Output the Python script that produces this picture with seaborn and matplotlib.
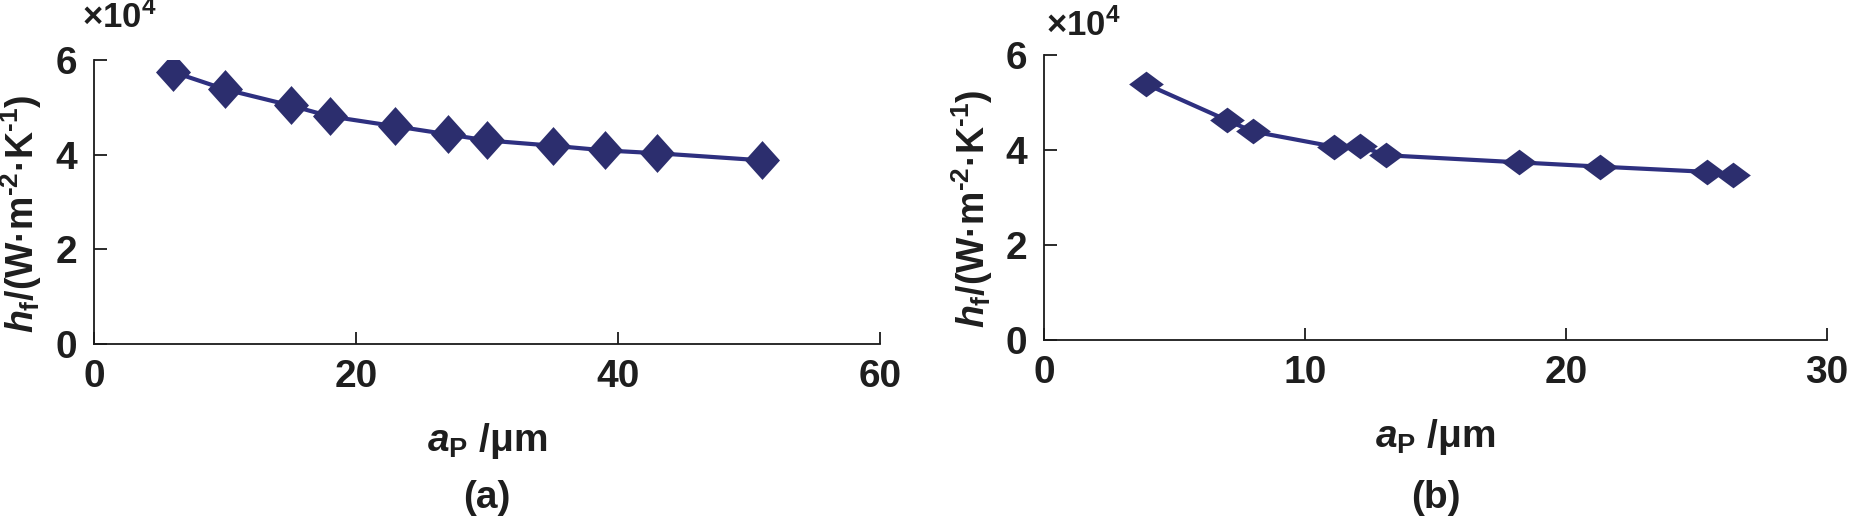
import numpy as np
import pandas as pd
import matplotlib
matplotlib.use('Agg')
import matplotlib.pyplot as plt
import seaborn as sns

# data (h_f in units of 1e4 W m^-2 K^-1)
ap_a = [6, 10, 15, 18, 23, 27, 30, 35, 39, 43, 51]
hf_a = [5.75, 5.38, 5.04, 4.81, 4.60, 4.43, 4.30, 4.19, 4.09, 4.03, 3.88]

ap_b = [3.9, 7.0, 8.0, 11.1, 12.1, 13.1, 18.2, 21.3, 25.4, 26.4]
hf_b = [5.39, 4.63, 4.39, 4.07, 4.08, 3.89, 3.74, 3.65, 3.54, 3.47]

panels = [
    {'x': ap_a, 'y': hf_a, 'xlim': 60, 'xticks': [0, 20, 40, 60], 'tag': '(a)'},
    {'x': ap_b, 'y': hf_b, 'xlim': 30, 'xticks': [0, 10, 20, 30], 'tag': '(b)'},
]

sns.set_style('ticks')
plt.rcParams['font.family'] = ['Liberation Sans', 'DejaVu Sans']
plt.rcParams['font.weight'] = 'bold'
plt.rcParams['mathtext.fontset'] = 'custom'
plt.rcParams['mathtext.rm'] = 'Liberation Sans:bold'
plt.rcParams['mathtext.it'] = 'Liberation Sans:italic:bold'
plt.rcParams['mathtext.bf'] = 'Liberation Sans:bold'

mark_col = '#2c2e6e'
line_col = '#2e3080'
text_col = '#1e1e1e'

# custom diamonds (panel a taller, panel b flatter)
diam_a = [(-0.9, 0), (0, 1), (0.9, 0), (0, -1), (-0.9, 0)]
diam_b = [(-1, 0), (0, 0.74), (1, 0), (0, -0.74), (-1, 0)]

fig = plt.figure(figsize=(18.5, 5.17), dpi=100)
W, H = 1850, 517
ax_a = fig.add_axes([94 / W, 1 - 344 / H, 786 / W, 284 / H])
ax_b = fig.add_axes([1044 / W, 1 - 340 / H, 783 / W, 285 / H])

for ax, p, diam, msize, mult_xy in [
    (ax_a, panels[0], diam_a, 28, (82 / W, 1 - 18 / H)),
    (ax_b, panels[1], diam_b, 25, (1046 / W, 1 - 26 / H)),
]:
    df = pd.DataFrame({'ap': p['x'], 'hf': p['y']})
    sns.lineplot(data=df, x='ap', y='hf', ax=ax, color=line_col, linewidth=3.0,
                 marker=diam, markersize=msize, markerfacecolor=mark_col,
                 markeredgecolor=mark_col, markeredgewidth=0, errorbar=None)
    ax.set_xlim(0, p['xlim'])
    ax.set_ylim(0, 6)
    ax.set_xticks(p['xticks'])
    ax.set_yticks([0, 2, 4, 6])
    sns.despine(ax=ax)
    for s in ['left', 'bottom']:
        ax.spines[s].set_linewidth(1.3)
        ax.spines[s].set_color('#1a1a1a')
    ax.tick_params(axis='both', direction='in', length=9, width=1.3,
                   labelsize=28, color='#1a1a1a', labelcolor=text_col)
    ax.tick_params(axis='y', pad=12)
    ax.tick_params(axis='x', pad=11)
    for lab in ax.get_xticklabels() + ax.get_yticklabels():
        lab.set_fontweight('bold')

    ax.set_xlabel(r'$a_{\rm P}$ /μm', fontsize=28, fontweight='bold', color=text_col)
    ax.xaxis.set_label_coords(0.5, -0.27)
    ax.set_ylabel(r'$h_{\rm f}$/(W·m$^{\text{-2}}$·K$^{\text{-1}}$)', fontsize=27,
                  fontweight='bold', color=text_col)
    ax.yaxis.set_label_coords(-0.063, 0.46)

    fig.text(mult_xy[0], mult_xy[1], r'×10$^{\rm 4}$', fontsize=25, fontweight='bold',
             color=text_col, ha='left', va='center')
    pos = ax.get_position()
    fig.text(pos.x0 + pos.width / 2, 1 - 498 / H, p['tag'], fontsize=28,
             fontweight='bold', color=text_col, ha='center', va='center')

fig.savefig('out.png', dpi=100)
